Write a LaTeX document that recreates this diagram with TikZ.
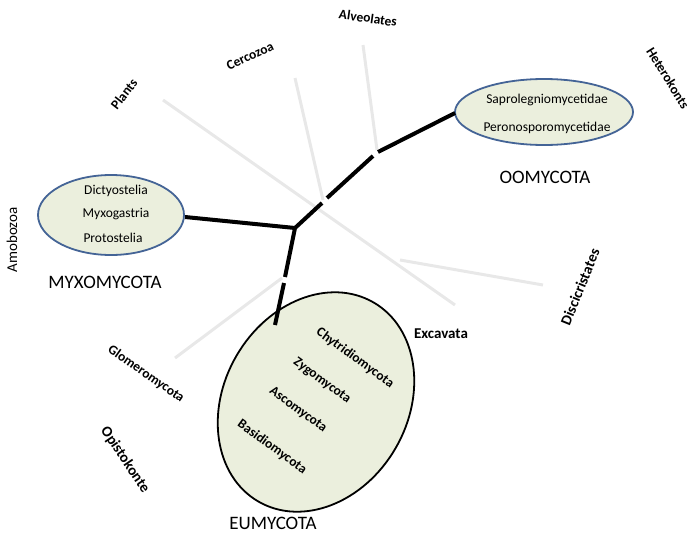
\documentclass[tikz,border=0pt]{standalone}
\usepackage{fontspec}
\setmainfont{Carlito}
\definecolor{efill}{RGB}{235,239,221}
\definecolor{eblue}{RGB}{68,100,150}
\begin{document}
\begin{tikzpicture}[x=1pt,y=-1pt,
  gl/.style={line width=3pt,color=black!9},
  bl/.style={line width=4pt,black},
  lab/.style={font=\bfseries\fontsize{13.5}{15}\selectfont},
  inn/.style={font=\fontsize{13.5}{15}\selectfont},
  big/.style={font=\fontsize{19}{21}\selectfont}]
\useasboundingbox (0,0) rectangle (700,538);
% gray branches
\coordinate (p1) at (163,100); \coordinate (p2) at (455,305);
\coordinate (c1) at (295,78); \coordinate (c2) at (323,200);
\coordinate (a1) at (363,45); \coordinate (a2) at (377,150);
\coordinate (d1) at (400,260); \coordinate (d2) at (543,285);
\coordinate (g1) at (282,278); \coordinate (g2) at (175,358);
\draw[gl] (p1)--(p2); \draw[gl] (c1)--(c2); \draw[gl] (a1)--(a2);
\draw[gl] (d1)--(d2); \draw[gl] (g1)--(g2);
% ellipses
\draw[line width=1.8pt,draw=eblue,fill=efill] (544,112) ellipse[x radius=89,y radius=33];
\draw[line width=1.8pt,draw=eblue,fill=efill] (111,215) ellipse[x radius=73,y radius=40];
\draw[line width=1.8pt,fill=efill,rotate around={60:(316,402)}] (316,402) ellipse[x radius=115,y radius=92];
% black tree
\coordinate (o) at (455,113); \coordinate (m) at (185,217); \coordinate (j) at (295,228);
\coordinate (e) at (275,325);
\coordinate (b1) at (378,152); \coordinate (b2) at (373,156);
\coordinate (b3) at (327,198); \coordinate (b4) at (322,203);
\coordinate (b5) at (285,277); \coordinate (b6) at (284,283);
\draw[bl] (o)--(b1); \draw[bl] (b2)--(b3); \draw[bl,line join=round] (b4)--(j)--(b5);
\draw[bl] (m)--(j); \draw[bl] (b6)--(e);
% ellipse texts
\node[inn] (s1) at (547,100) {Saprolegniomycetidae};
\node[inn] (s2) at (547,128) {Peronosporomycetidae};
\node[inn] (x1) at (116,191) {Dictyostelia};
\node[inn] (x2) at (116,214) {Myxogastria};
\node[inn] (x3) at (113,238) {Protostelia};
\node[lab,rotate=-36] (e1) at (355,358) {Chytridiomycota};
\node[lab,rotate=-36] (e2) at (322,381) {Zygomycota};
\node[lab,rotate=-36] (e3) at (298,410) {Ascomycota};
\node[lab,rotate=-36] (e4) at (272,447) {Basidiomycota};
% group labels
\node[big] (oo) at (545,177) {OOMYCOTA};
\node[big] (mx) at (105,282) {MYXOMYCOTA};
\node[big] (eu) at (273,523) {EUMYCOTA};
% outer labels
\node[lab,rotate=52] (pl) at (124,94) {Plants};
\node[lab,rotate=25] (ce) at (250,56) {Cercozoa};
\node[lab,rotate=-8] (al) at (368,18) {Alveolates};
\node[lab,rotate=-58] (he) at (668,78) {Heterokonts};
\node[font=\fontsize{15}{17}\selectfont,rotate=90] (am) at (12,240) {Amobozoa};
\node[font=\fontsize{15}{17}\selectfont\bfseries,rotate=68] (di) at (580,287) {Discicristates};
\node[font=\fontsize{15}{17}\selectfont\bfseries] (ex) at (441,334) {Excavata};
\node[lab,rotate=-35] (go) at (146,374) {Glomeromycota};
\node[font=\fontsize{15}{17}\selectfont\bfseries,rotate=-56] (op) at (125,460) {Opistokonte};
\end{tikzpicture}
\end{document}
